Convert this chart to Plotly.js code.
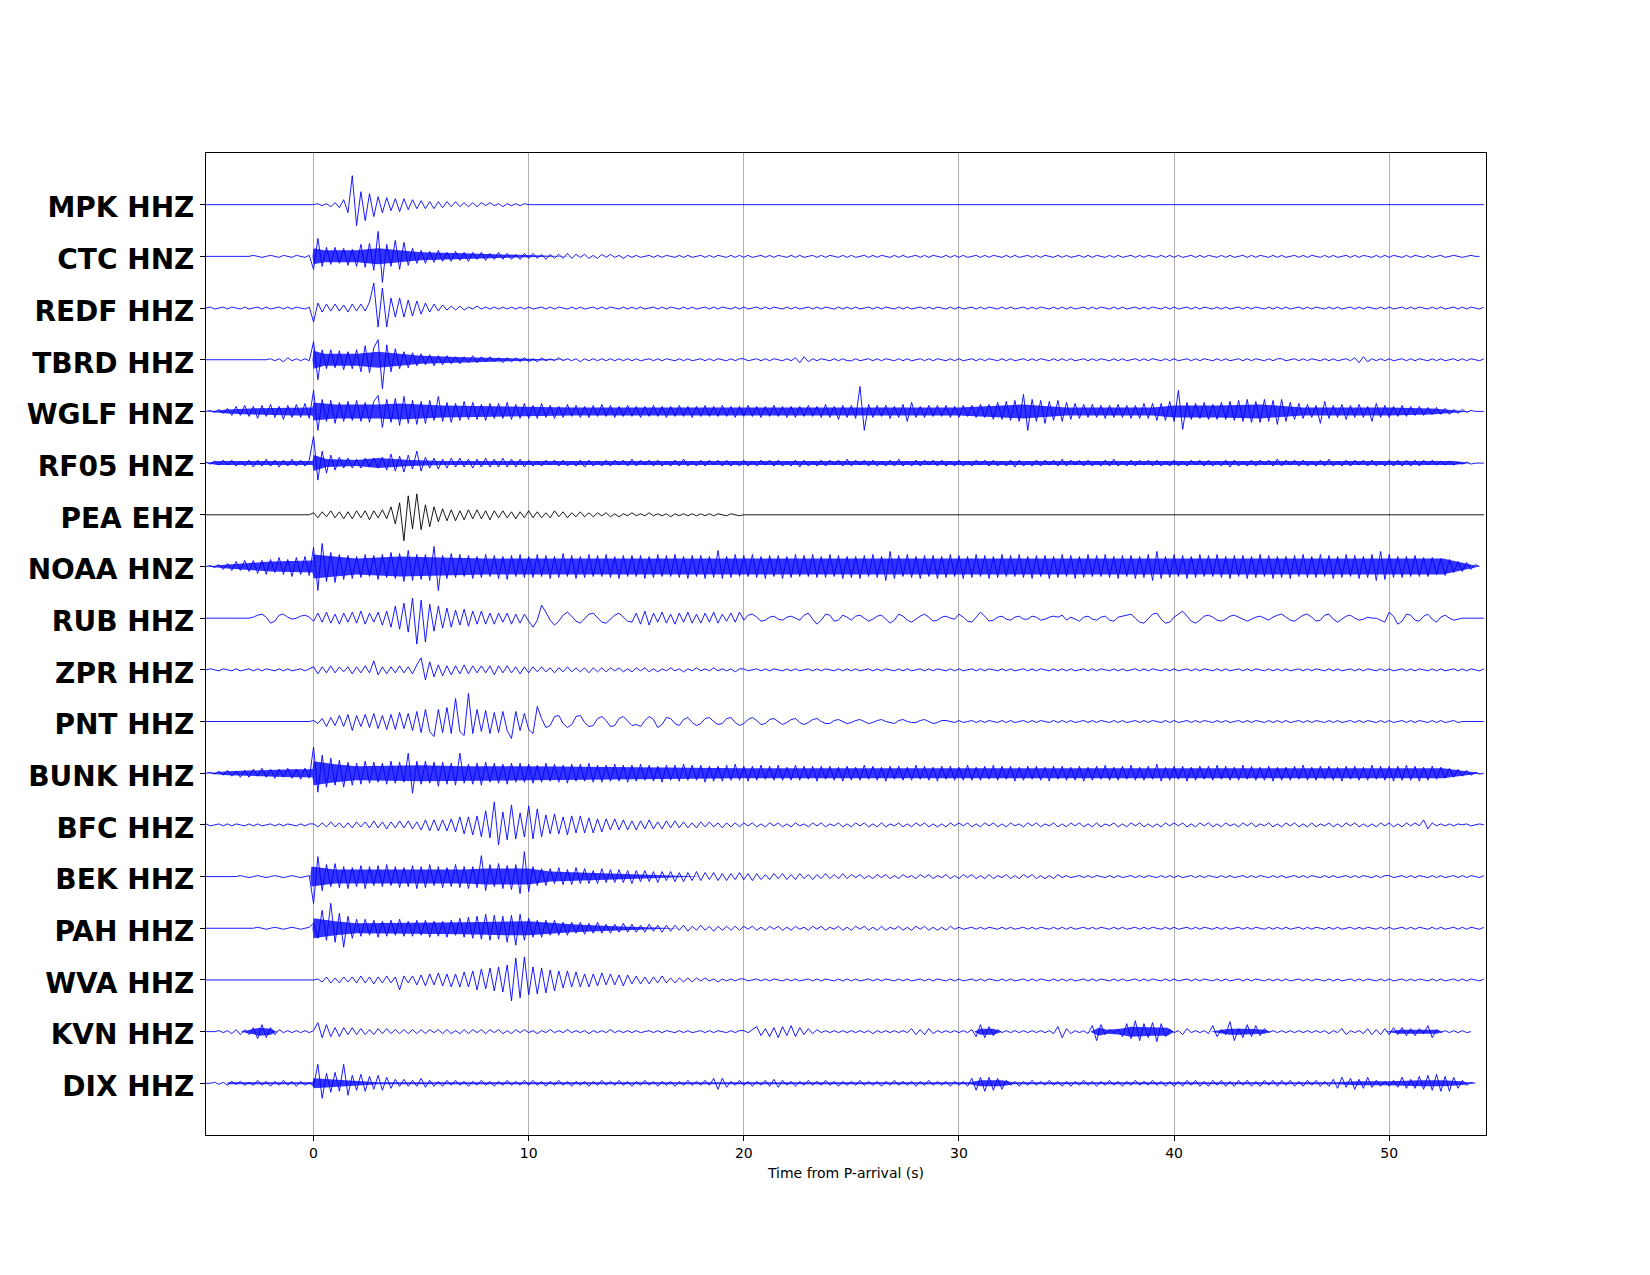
<!DOCTYPE html>
<html>
<head>
<meta charset="utf-8">
<script src="https://cdn.plot.ly/plotly-3.0.1.min.js"></script>
<style>html,body{margin:0;padding:0;background:#fff;}#chart{width:1650px;height:1275px;}</style>
</head>
<body>
<div id="chart"></div>
<script>
// Station labels (top to bottom) and trace colours
const stations = ["MPK HHZ","CTC HNZ","REDF HHZ","TBRD HHZ","WGLF HNZ","RF05 HNZ","PEA EHZ","NOAA HNZ","RUB HHZ",
                  "ZPR HHZ","PNT HHZ","BUNK HHZ","BFC HHZ","BEK HHZ","PAH HHZ","WVA HHZ","KVN HHZ","DIX HHZ"];
const traceColors = ["#0000ff","#0000ff","#0000ff","#0000ff","#0000ff","#0000ff","#000000","#0000ff","#0000ff",
                     "#0000ff","#0000ff","#0000ff","#0000ff","#0000ff","#0000ff","#0000ff","#0000ff","#0000ff"];
const xTicks = [0,10,20,30,40,50];

// Sampling: each trace is a list of 5-s blocks of peak amplitudes sampled every 0.2 s from t = -5 s.
const START = -5, BLOCK = 5, STEP = 0.2;
const AMP = 1/51.7;   // amplitude unit as a fraction of the trace spacing

// quiet segments
const Z25 = [0,0,0,0,0, 0,0,0,0,0, 0,0,0,0,0, 0,0,0,0,0, 0,0,0,0,0];
const Z23 = [0,0,0,0,0, 0,0,0,0,0, 0,0,0,0,0, 0,0,0,0,0, 0,0,0];
const QA = [1,-1,0,1,-1, 1,-1,1,0,-1, 1,-1,1,-1,0, 1,-1,1,-1,1, 0,-1,1,-1,1];
const QB = [-1,1,-1,0,1, -1,1,-1,1,0, -1,1,-1,1,-1, 0,1,-1,1,-1, 1,0,-1,1,-1];
const QC = [2,-1,2,-2,1, -2,2,-1,2,-2, 1,-2,2,-1,1, -2,2,-1,2,-2, 1,-1,2,-2,1];
const QD = [-2,2,-1,2,-2, 1,-2,2,-2,1, -1,2,-2,1,-2, 2,-1,2,-2,1, -2,1,-2,2,-1];
const QE = [3,-3,2,-3,3, -2,3,-3,3,-3, 2,-3,3,-4,3, -3,2,-3,3,-3, 3,-2,3,-3,4];
const QF = [-3,3,-2,3,-3, 3,-3,2,-3,3, -3,4,-3,2,-3, 3,-3,3,-2,3, -3,3,-3,2,-3];
const QA23 = [1,-1,0,1,-1, 1,-1,1,0,-1, 1,-1,1,-1,0, 1,-1,1,-1,1, 0,-1,1];

const MPK = [Z25,
 [0,1,-1,1,-2, 2,-3,5,-8,29, -21,13,-16,11,-12, 8,-8,7,-6,6, -7,6,-5,5,-4],
 [4,-4,3,-4,3, -3,3,-2,3,-2, 2,-2,2,-2,2, -1,2,-1,1,-2, 1,-1,1,-1,1],
 Z25,Z25,Z25,Z25,Z25,Z25,Z25,Z25, Z23];

const CTC = [
 [0,0,0,0,0, 0,0,0,0,0, 0,1,0,-1,0, 1,0,-1,1,0, -1,1,0,-1,1],
 [-13,18,-10,9,-8, 9,-7,8,-9,7, -10,12,-11,13,-14, 25,-26,12,-10,16, -13,14,-9,8,-7],
 [6,-7,5,-6,6, -5,4,-5,5,-4, 4,-5,4,-3,4, -4,3,-3,4,-3, 3,-3,2,-3,3],
 [-2,3,-2,2,-3, 2,-2,2,-2,3, -2,2,-1,2,-2, 1,-2,2,-1,2, -1,1,-2,1,-1],
 QA,QB,QA,QB,QA,QB,QA,
 [-1,1,0,-1,1, -1,1,0,-1,1, -1,0,1,-1,0, 1,0,-1,0,1, 0,0]];

const REDF = [
 [0,1,-1,0,1, -1,1,0,-1,1, -1,0,1,-1,1, -1,0,1,-1,1, -1,1,0,-1,1],
 [-14,5,-4,4,-3, 4,-3,3,-4,4, -3,4,-3,6,25, -19,20,-19,10,-9, 10,-9,8,-8,7],
 [-6,5,-4,4,-3, 3,-2,2,-2,2, -2,1,-1,2,-1, 1,-1,1,-1,1, -1,1,-1,1,-1],
 QA,QB,QA,QB,QA,QB,QA,QB,
 QA23];

const TBRD = [
 [0,0,0,0,0, 0,0,0,0,0, 0,0,0,0,0, 1,-1,1,-2,2, -1,1,-1,1,-1],
 [18,-20,10,-9,10, -8,9,-10,8,-9, 10,-12,14,-13,12, 20,-29,15,-12,11, -9,8,-8,7,-6],
 [6,-5,5,-6,4, -5,4,-4,3,-4, 3,-3,4,-3,3, -2,3,-2,2,-3, 2,-2,2,-2,2],
 [-2,1,-2,2,-1, 1,-1,2,-1,1, -1,1,-2,1,-1, 1,-1,1,-1,1, -1,1,-1,1,-1],
 QA,
 [1,-1,0,1,-1, 1,-1,1,0,-1, 1,-1,2,-3,3, -2,1,-1,1,0, -1,1,-1,1,-1],
 QB,QA,QB,QA,
 [1,-1,0,1,-1, 1,-1,1,0,-1, 1,-1,1,-1,0, 1,-1,2,-3,3, -2,1,-1,1,-1],
 QA23];

const WGLF = [
 [0,1,-1,2,-2, 3,-4,5,-4,6, -5,5,-7,6,-5, 7,-6,5,-8,6, -6,7,-6,8,-7],
 [21,-19,12,-10,11, -12,9,-10,10,-9, 11,-10,9,-11,10, 16,-16,12,-11,13, -14,15,-12,11,-13],
 [10,-12,11,-9,15, -10,9,-11,8,-9, 10,-8,9,-8,7, -9,8,-7,8,-7, 9,-8,7,-7,8],
 [-7,6,-7,8,-6, 6,-7,5,-6,7, -5,6,-6,5,-6, 6,-5,7,-5,6, -6,5,-5,6,-5],
 [5,-6,5,-5,6, -5,5,-6,5,-5, 6,-5,5,-6,5, -5,6,-5,5,-5, 6,-5,5,-6,5],
 [-5,6,-5,5,-6, 5,-5,6,-5,5, -6,5,-6,5,-5, 6,-5,5,-6,7, -6,5,-8,6,-6],
 [6,-7,25,-19,7, -6,6,-5,6,-7, 5,-6,7,-10,9, -6,5,-6,6,-5, 6,-5,6,-6,5],
 [-6,6,-5,6,-6, 7,-6,7,-8,9, -8,10,-9,11,-10, 17,-19,12,-10,11, -12,10,-9,11,-10],
 [9,-8,8,-7,7, -6,7,-6,6,-7, 6,-6,7,-6,6, -7,6,-7,8,-7, 8,-9,8,-9,10],
 [-10,21,-18,9,-8, 8,-7,9,-8,7, -8,9,-8,10,-9, 11,-10,12,-11,10, -11,12,-10,11,-13],
 [12,-10,9,-8,8, -7,7,-6,6,-12, 10,-7,6,-6,7, -8,6,-6,7,-6, 5,-10,8,-6,6],
 [-6,5,-5,6,-5, 5,-4,5,-4,4, -3,4,-3,3,-3, 2,-2,2,-1,1, 0,0,0]];

const RF05 = [
 [1,-1,2,-2,3, -2,3,-3,2,-3, 3,-4,3,-3,4, -3,3,-4,3,-3, 4,-3,3,-3,3],
 [27,-17,12,-10,8, -7,6,-5,5,-5, 4,-5,5,-4,5, -5,6,-7,9,-8, 7,-9,8,-6,12],
 [-8,6,-5,5,-6, 4,-5,5,-4,5, -4,4,-5,4,-4, 5,-4,4,-4,5, -4,4,-4,4,-4],
 QE,QF,QE,QF,QE,QF,QE,QF,
 [3,-3,3,-3,3, -3,3,-3,3,-2, 3,-2,2,-2,2, -2,1,-1,1,-1, 0,0,0]];

const PEA = [Z25,
 [2,-3,3,-2,4, -3,3,-4,3,-4, 4,-3,4,-5,4, -3,5,-4,8,-9, 12,-26,19,-14,21],
 [-15,10,-12,8,-7, 6,-6,5,-6,4, -5,5,-4,5,-4, 4,-5,4,-3,4, -3,3,-4,3,-3],
 [4,-3,3,-3,2, -3,4,-2,3,-3, 2,-2,3,-2,2, -2,2,-1,2,-2, 1,-2,1,-1,2],
 [-1,1,-1,2,-1, 1,-1,1,-2,1, -1,1,-1,1,-1, 1,-1,1,-1,1, 0,-1,1,0,-1],
 Z25,Z25,Z25,Z25,Z25,Z25, Z23];

const NOAA = [
 [0,1,-1,2,-3, 3,-4,5,-4,6, -5,6,-7,6,-8, 7,-6,9,-8,7, -10,9,-8,10,-9],
 [19,-24,23,-15,14, -16,12,-13,11,-12, 10,-11,12,-10,11, -13,12,-11,14,-12, 13,-15,16,-14,12],
 [-13,12,-14,20,-24, 11,-12,13,-11,12, -10,11,-12,10,-11, 12,-10,11,-12,10, -13,11,-10,12,-11],
 [10,-11,12,-10,11, -12,10,-11,13,-10, 11,-12,10,-11,12, -10,11,-10,12,-11, 10,-12,11,-10,11],
 [-10,11,-12,10,-11, 12,-10,11,-10,12, -11,10,-12,11,-10, 11,-12,10,-11,16, -12,10,-11,12,-10],
 [11,-10,12,-11,10, -12,11,-10,11,-12, 10,-11,12,-10,11, -10,12,-11,10,-11, 12,-10,11,-12,10],
 [-11,10,-12,11,-10, 12,-11,10,-14,15, -12,11,-10,12,-11, 10,-12,11,-10,11, -12,10,-11,12,-10],
 [11,-12,10,-11,12, -10,11,-12,10,-11, 12,-10,11,-10,12, -11,10,-12,11,-10, 11,-12,10,-11,12],
 [-10,11,-12,10,-11, 12,-10,11,-10,12, -11,10,-12,11,-10, 11,-12,10,-11,12, -14,15,-12,10,-11],
 [12,-10,11,-12,10, -11,12,-10,11,-10, 12,-11,10,-12,11, -10,11,-12,10,-11, 12,-10,11,-12,10],
 [-11,10,-12,11,-10, 12,-11,10,-11,12, -10,11,-12,10,-11, 12,-10,11,-12,10, -11,12,-14,15,-13],
 [12,-11,10,-11,10, -10,11,-10,9,-10, 9,-8,8,-9,7, -6,5,-5,4,-3, 2,0]];

const RUB = [
 [0,0,0,0,0, 0,0,0,0,0, 0,1,3,4,1, -5,-3,3,4,1, -1,0,2,3,1],
 [-3,5,-4,6,-5, 4,-6,5,-4,6, -5,7,-6,5,-4, 6,-7,7,-9,12, -11,15,-14,20,-26],
 [18,-24,14,-13,12, -10,10,-9,8,-7, 9,-8,7,-6,7, -6,5,-6,5,-4, 5,-6,4,-5,4],
 [-3,-9,-2,13,6, -2,-7,-3,3,6, 2,-3,-5,-1,4, 5,0,-4,-5,-1, 3,5,1,-3,-4],
 [5,-6,7,-7,5, -4,6,-5,4,-6, 5,-4,6,-5,4, -5,5,-4,6,-5, 4,-3,5,-4,6],
 [-2,3,4,1,-3, -2,1,2,-1,-2, 1,2,0,-2,3, 5,-1,-6,-2,4, 3,-3,-2,3,1],
 [-2,2,3,0,-3, -1,2,3,-1,-5, -2,4,2,-2,-4, -1,2,4,1,-3, -2,1,2,0,-1],
 [4,1,-3,-4,1, 6,2,-3,-2,1, 2,-1,-2,1,2, -1,-1,2,1,-2, -1,1,2,1,3],
 [-2,1,-1,-3,1, 2,-1,-2,1,2, -2,-3,1,2,3, 4,0,-4,-5,-1, 4,5,-1,-5,-4],
 [1,4,7,2,-3, -5,-2,2,3,1, -2,-3,-1,2,3, 1,-1,-3,-1,1, 2,0,-2,1,3],
 [4,1,-2,-3,0, 3,4,1,-3,-2, 3,4,-1,-4,-1, 2,3,0,-2,-1, 1,0,0,-2,-4],
 [6,2,-6,-3,4, 3,-2,-3,2,4, -1,-4,1,3,0, -2,-1,0,0,0, 0,0,0]];

const ZPR = [
 [0,1,0,-1,1, 0,-1,1,-1,0, 1,-1,1,-1,1, 0,-1,1,-1,1, -1,0,1,-1,1],
 [3,-4,3,-3,4, -3,3,-2,3,-4, 3,-3,4,-3,9, -5,3,-4,3,-3, 4,-3,3,-4,5],
 [12,-10,8,-7,5, -6,4,-5,4,-4, 5,-4,4,-3,4, -3,4,-5,4,-3, 4,-3,3,-4,3],
 [-3,3,-2,3,-2, 2,-3,2,-2,3, -2,2,-2,2,-3, 2,-2,2,-2,2, -1,2,-2,1,-2],
 [2,-1,2,-2,1, -2,1,-1,2,-1, 1,-2,1,-1,2, -1,1,-1,2,-1, 1,-1,1,-2,1],
 QA,QB,QA,QB,QA,QB,
 QA23];

const PNT = [Z25,
 [1,-2,3,-5,4, -4,6,-5,7,-9, 6,-5,7,-6,8, -7,6,-8,7,-8, 9,-7,8,-9,10],
 [-11,12,-10,-15,12, -11,14,-12,23,-10, -14,28,-12,12,-10, 11,-12,9,-11,10, -9,-17,10,-9,8],
 [-8,-12,15,3,-6, -4,5,6,-2,-6, -3,5,6,-1,-5, -4,3,5,1,-5, -4,3,5,0,-4],
 [-3,-5,1,5,2, -6,-3,4,3,-2, -4,2,4,-1,-4, -2,3,4,0,-3, -2,3,4,-1,-4],
 [-2,2,4,1,-3, -2,2,3,0,-3, -1,2,3,-1,-3, -1,2,3,0,-2, -2,1,2,0,-2],
 [-1,1,2,0,-2, -1,1,2,0,-1, -2,1,2,0,-1, -1,1,2,0,-2, -1,1,1,0,-1],
 QA,QB,QA,QB,
 [1,-1,0,1,-1, 1,-1,1,0,-1, 1,-1,1,-1,0, 1,-1,0,0,0, 0,0,0]];

const BUNK = [
 [0,1,-1,2,-2, 3,-3,2,-4,3, -4,4,-3,5,-4, 4,-5,4,-4,5, -5,4,-6,5,-5],
 [26,-19,18,-14,15, -12,13,-14,11,-12, 10,-11,12,-10,11, -9,10,-11,12,-10, 11,-9,20,-20,12],
 [-11,12,-10,11,-13, 11,-11,10,-12,20, -10,9,-11,10,-12, 11,-9,10,-10,9, -11,10,-9,10,-9],
 [9,-10,8,-9,10, -8,9,-9,8,-10, 9,-8,9,-8,10, -9,8,-9,8,-8, 9,-8,8,-9,8],
 [-8,9,-7,8,-8, 7,-9,8,-7,8, -8,9,-7,8,-7, 8,-9,7,-8,7, -8,8,-7,9,-7],
 [7,-8,7,-7,8, -6,7,-7,8,-7, 6,-7,8,-7,7, -6,7,-8,7,-6, 7,-7,6,-8,7],
 [-7,6,-7,8,-6, 7,-7,6,-8,7, -6,7,-7,6,-7, 8,-6,7,-7,6, -8,7,-6,7,-7],
 [6,-7,8,-7,6, -7,7,-6,8,-7, 7,-6,7,-8,6, -7,7,-6,7,-7, 6,-8,7,-6,7],
 [-7,6,-7,7,-8, 6,-7,7,-6,8, -7,6,-7,7,-6, 8,-7,6,-7,7, -6,9,-8,6,-7],
 [7,-6,7,-8,6, -7,7,-6,7,-7, 8,-6,7,-7,6, -7,8,-6,7,-7, 6,-7,7,-8,6],
 [-7,6,-7,7,-6, 8,-7,6,-7,7, -6,7,-7,6,-8, 7,-6,7,-7,6, -7,8,-6,7,-7],
 [7,-8,7,-7,8, -7,7,-8,6,-7, 7,-6,6,-5,5, -4,4,-3,3,-2, 1,-1,0]];

const BFC = [QA,
 [1,-2,2,-2,3, -2,2,-3,2,-3, 3,-2,3,-3,4, -3,3,-4,3,-3, 4,-3,4,-4,3],
 [-5,5,-6,5,-6, 5,-6,6,-7,8, -9,8,-10,9,-12, 14,-13,23,-20,13, -15,20,-14,12,-12],
 [19,-14,16,-12,10, -9,11,-9,8,-10, 9,-8,9,-8,7, -8,6,-7,6,-5, 6,-5,5,-5,4],
 [-5,4,-4,5,-4, 3,-4,4,-3,4, -3,3,-3,2,-3, 3,-2,3,-2,2, -3,2,-2,2,-2],
 QC,QD,QC,QD,QC,QD,
 [2,-2,1,-2,2, -1,2,-1,5,-4, 2,-1,1,-1,1, -1,1,0,1,-1, 0,1,0]];

const BEK = [
 [0,0,0,0,0, 0,0,0,1,0, -1,0,1,0,-1, 0,1,0,-1,0, 1,0,-1,0,1],
 [-27,20,-14,12,-10, 13,-11,10,-12,9, -10,11,-12,10,-9, 11,-10,12,-9,10, -11,9,-10,11,-12],
 [10,-11,12,-9,10, -11,9,-10,12,-11, 10,-12,10,-11,21, -14,12,-10,13,-12, 11,-13,12,-17,25],
 [-15,10,-9,8,-9, 8,-7,9,-8,7, -8,9,-7,8,-7, 6,-7,8,-6,7, -6,7,-6,6,-7],
 [6,-5,6,-5,5, -6,5,-4,5,-5, 4,-5,4,-4,5, -4,4,-3,4,-4, 3,-4,3,-3,4],
 [-3,3,-4,3,-3, 2,-3,3,-2,3, -3,2,-3,3,-2, 2,-3,2,-2,3, -2,2,-2,3,-2],
 QC,QD,QA,QB,QA,
 QA23];

const PAH = [
 [0,0,0,0,0, 0,0,0,0,0, 0,0,1,0,-1, 0,1,0,-1,0, 1,0,-1,0,1],
 [5,-10,18,-12,25, -14,15,-19,12,-10, 9,-8,9,-7,8, -9,7,-8,8,-7, 9,-8,7,-8,8],
 [-7,8,-9,7,-8, 7,-9,8,-7,10, -9,11,-10,12,-11, 14,-12,13,-11,12, -14,13,-17,14,-12],
 [10,-9,8,-9,8, -7,8,-7,6,-7, 6,-5,6,-6,5, -5,6,-5,4,-5, 4,-4,5,-4,4],
 [-4,3,-4,4,-3, 3,-4,3,-3,3, -2,3,-3,2,-2, 3,-2,2,-3,2, -2,2,-2,2,-2],
 QC,QD,QA,QB,QA,QB,
 QA23];

const WVA = [Z25,
 [0,1,-2,3,-3, 2,-3,3,-2,3, -3,4,-3,3,-4, 3,-3,4,-3,3, -10,4,-3,4,-5],
 [5,-6,6,-5,7, -6,6,-7,6,-7, 8,-7,9,-10,11, -9,12,-11,13,-12, 15,-21,22,-18,23],
 [-15,13,-14,12,-13, 10,-11,9,-8,9, -7,8,-7,6,-7, 6,-6,7,-5,6, -5,5,-6,5,-4],
 [4,-4,3,-4,3, -3,4,-3,2,-3, 2,-2,2,-2,2, -1,2,-1,1,-2, 1,-1,1,-1,1],
 QA,QB,QA,QB,QA,QB,
 QA23];

const KVN = [
 [0,0,0,1,-1, 1,-2,2,-3,2, -3,4,-7,7,-6, 4,-3,2,-1,1, -1,1,-1,1,-1],
 [1,9,-6,7,-5, 4,-5,4,-3,4, -3,3,-3,2,-3, 3,-2,3,-2,2, -2,2,-2,2,-2],
 [2,-2,2,-1,2, -2,2,-2,1,-2, 2,-2,2,-1,2, -2,2,-1,2,-2, 1,-2,2,-1,2],
 [-1,1,-2,1,-1, 2,-1,1,-1,2, -1,1,-1,1,-2, 1,-1,1,-1,2, -1,1,-1,1,-1],
 QA,
 [1,-1,2,5,-4, 3,-5,4,-6,5, -4,6,-5,4,-3, 3,-2,2,-1,1, -1,1,-1,1,-1],
 [1,-1,1,-1,1, -2,1,-1,1,-1, 1,-1,1,-1,3, -3,2,-3,3,-2, 1,-1,1,-1,1],
 [-1,1,-1,2,-5, 7,-6,5,-4,2, -1,1,-1,1,-1, 1,-1,1,-1,1, -1,1,-2,5,-6],
 [3,-2,1,-1,1, -2,6,-9,7,-3, 2,-1,2,-5,8, -7,11,-9,8,-6, 9,-10,8,-5,2],
 [-1,1,-3,3,-1, 1,-1,1,-2,6, -5,2,-3,10,-9, 3,-6,7,-5,6, -4,3,-1,1,-1],
 [1,-1,1,-1,1, -1,1,-1,1,-1, 1,-2,1,-1,3, -3,1,-1,1,-2, 3,-3,2,-3,3],
 [-3,4,-3,4,-4, 3,-4,3,-2,6, -6,2,-1,1,-1, 1,-1,1,-1,0]];

const DIX = [
 [0,0,1,-1,1, -2,2,-1,2,-2, 1,-2,3,-2,2, -3,2,-2,3,-2, 2,-3,2,-2,1],
 [-3,19,-15,10,-9, 11,-8,19,-12,8, -7,9,-8,7,-6, 8,-7,6,-5,4, -3,4,-3,3,-3],
 [5,-4,3,-3,2, -3,3,-2,3,-2, 2,-3,2,-2,3, -2,2,-3,2,-2, 3,-2,2,-2,3],
 [-2,3,-2,2,-3, 2,-2,3,-2,2, -3,2,-2,2,-3, 2,-2,3,-2,2, -2,3,-2,2,-3],
 [2,-2,3,-2,2, -3,2,-2,2,-3, 2,-2,3,-2,2, -2,3,-2,5,-6, 5,-4,2,-2,3],
 [-2,2,-3,2,-2, 3,-3,4,-4,3, -2,2,-3,2,-2, 3,-2,2,-2,3, -2,2,-3,2,-2],
 [2,-2,3,-2,2, -2,2,-3,2,-2, 3,-2,2,-2,2, -3,2,-2,3,-2, 2,-2,2,-3,2],
 [-2,2,-3,5,-7, 6,-8,6,-7,5, -6,3,-2,2,-3, 2,-2,3,-2,2, -2,3,-2,2,-3],
 [2,-3,2,-2,3, -2,2,-3,2,-2, 3,-2,2,-3,2, -2,3,-2,2,-2, 3,-2,2,-3,2],
 [-3,2,-3,3,-2, 3,-3,2,-3,3, -2,3,-3,2,-3, 3,-2,3,-3,2, -3,3,-2,3,-3],
 [3,-2,3,-3,2, -3,3,-2,3,-3, 2,-3,4,-5,6, -4,5,-6,4,-5, 6,-4,3,-3,2],
 [-3,3,-4,6,-5, 4,-5,7,-6,8, -7,9,-8,7,-8, 6,-5,3,-2,1, 0]];

const waveforms = [MPK,CTC,REDF,TBRD,WGLF,RF05,PEA,NOAA,RUB,ZPR,PNT,BUNK,BFC,BEK,PAH,WVA,KVN,DIX];

// Half-width of the dense (solid-looking) core of the busy traces: breakpoint times (s) and widths
const CTC_CORE_T  = [-0.05, 0, 0.5, 2, 3, 4, 5, 7, 9, 12];
const CTC_CORE_V  = [0, 8, 6, 6, 8, 6, 4, 3, 1.5, 0];
const TBRD_CORE_T = [-0.05, 0, 0.5, 2, 3, 4, 5, 7, 10, 12];
const TBRD_CORE_V = [0, 9, 6, 6, 8, 6, 4, 2.5, 1, 0];
const WGLF_CORE_T = [-5, -4, -3, -1, -0.05, 0, 1, 3, 4, 6, 9, 12, 25, 30, 31, 33, 35, 39, 40, 42, 44, 46, 50, 52, 53.8];
const WGLF_CORE_V = [0, 2, 3, 4, 4, 9, 7, 7, 8, 6, 5, 4, 4, 4, 5, 7, 4, 4, 6, 6, 7, 4, 4, 3, 0];
const RF05_CORE_T = [-5, -4.5, -0.05, 0, 0.6, 2, 3, 4.5, 6, 53, 53.8];
const RF05_CORE_V = [0, 2, 2, 8, 4, 3, 5, 3, 2, 2, 0];
const NOAA_CORE_T = [-5, -4, -2, -0.05, 0, 1, 2, 4, 6, 8, 52.5, 54.2];
const NOAA_CORE_V = [0, 2, 5, 6, 12, 10, 8, 10, 9, 8, 8, 0];
const BUNK_CORE_T = [-5, -4, -1, -0.05, 0, 1, 2, 5, 7, 10, 15, 20, 52.5, 54.3];
const BUNK_CORE_V = [0, 2, 4, 4, 12, 9, 7, 8, 7, 7, 6, 5, 5, 0];
const BEK_CORE_T  = [-0.15, -0.1, 1, 7, 8, 10, 11, 14, 18];
const BEK_CORE_V  = [0, 10, 7, 7, 8, 8, 5, 3, 0];
const PAH_CORE_T  = [-0.05, 0, 1, 2, 7, 9, 10, 12, 14, 17];
const PAH_CORE_V  = [0, 10, 7, 5, 6, 7, 7, 4, 2, 0];
const KVN_CORE_T  = [-3.4, -3, -2.5, -2, -1.7, 30.7, 31, 31.6, 32, 36.1, 36.5, 36.9, 37.5, 38, 39, 39.7, 40,
                     41.7, 42.2, 42.6, 43, 43.5, 44.2, 44.5, 49.8, 50.5, 51.5, 52.2, 52.5];
const KVN_CORE_V  = [0, 2, 4, 3, 0, 0, 3, 3, 0, 0, 4, 2, 3, 5, 4, 4, 0,
                     0, 2, 3, 3, 3, 2, 0, 0, 2, 2, 2, 0];
const DIX_CORE_T  = [-4, -0.05, 0, 0.8, 1.5, 3, 5, 18.5, 19.2, 30.5, 31, 32, 32.5, 47.5, 48.5, 50, 51.5, 52.5, 53.3, 54];
const DIX_CORE_V  = [1, 1, 5, 4, 3, 1, 1, 1, 1, 1, 3, 3, 1, 1, 2, 2, 3, 3, 2, 0];

const cores = [
  [1, CTC_CORE_T, CTC_CORE_V], [3, TBRD_CORE_T, TBRD_CORE_V], [4, WGLF_CORE_T, WGLF_CORE_V],
  [5, RF05_CORE_T, RF05_CORE_V], [7, NOAA_CORE_T, NOAA_CORE_V], [11, BUNK_CORE_T, BUNK_CORE_V],
  [13, BEK_CORE_T, BEK_CORE_V], [14, PAH_CORE_T, PAH_CORE_V], [16, KVN_CORE_T, KVN_CORE_V],
  [17, DIX_CORE_T, DIX_CORE_V]
];

const traces = [];
cores.forEach(([i, ts, vs]) => {
  const xs = [], ys = [];
  ts.forEach((t, j) => { xs.push(t); ys.push(-i + vs[j] * AMP); });
  for (let j = ts.length - 1; j >= 0; j--) { xs.push(ts[j]); ys.push(-i - vs[j] * AMP); }
  traces.push({type: 'scatter', mode: 'lines', x: xs, y: ys, fill: 'toself',
               fillcolor: 'rgba(0,0,255,0.8)', line: {width: 0, color: 'rgba(0,0,255,0)'},
               hoverinfo: 'skip', showlegend: false});
});
waveforms.forEach((blocks, i) => {
  const x = [], y = [];
  blocks.forEach((blk, g) => blk.forEach((v, k) => {
    x.push(START + BLOCK * g + STEP * k);
    y.push(-i + v * AMP);
  }));
  traces.push({type: 'scatter', mode: 'lines', x: x, y: y, hoverinfo: 'skip', showlegend: false,
               line: {color: traceColors[i], width: 0.9}});
});

const layout = {
  width: 1650, height: 1275,
  margin: {l: 206, r: 164, t: 153, b: 140},
  paper_bgcolor: '#ffffff', plot_bgcolor: '#ffffff',
  showlegend: false,
  font: {family: 'DejaVu Sans', color: '#000000'},
  xaxis: {
    range: [-5, 54.5], tickmode: 'array', tickvals: xTicks, ticktext: xTicks.map(String),
    showgrid: true, gridcolor: '#b0b0b0', gridwidth: 1, zeroline: false,
    showline: true, mirror: true, linecolor: '#000000', linewidth: 1,
    ticks: 'outside', ticklen: 5, tickcolor: '#000000', tickwidth: 1,
    tickfont: {family: 'DejaVu Sans', size: 14, color: '#000000'},
    title: {text: 'Time from P-arrival (s)', font: {family: 'DejaVu Sans', size: 14, color: '#000000'}, standoff: 8}
  },
  yaxis: {
    range: [-18, 1], tickmode: 'array', tickvals: stations.map((s, i) => -i), ticktext: stations,
    showgrid: false, zeroline: false,
    showline: true, mirror: true, linecolor: '#000000', linewidth: 1,
    ticks: 'outside', ticklen: 5, tickcolor: '#000000', tickwidth: 1, ticklabelshift: 3,
    tickfont: {family: 'DejaVu Sans', size: 28, color: '#000000', weight: 'bold'}
  }
};

Plotly.newPlot('chart', traces, layout, {displayModeBar: false, staticPlot: true});
</script>
</body>
</html>
